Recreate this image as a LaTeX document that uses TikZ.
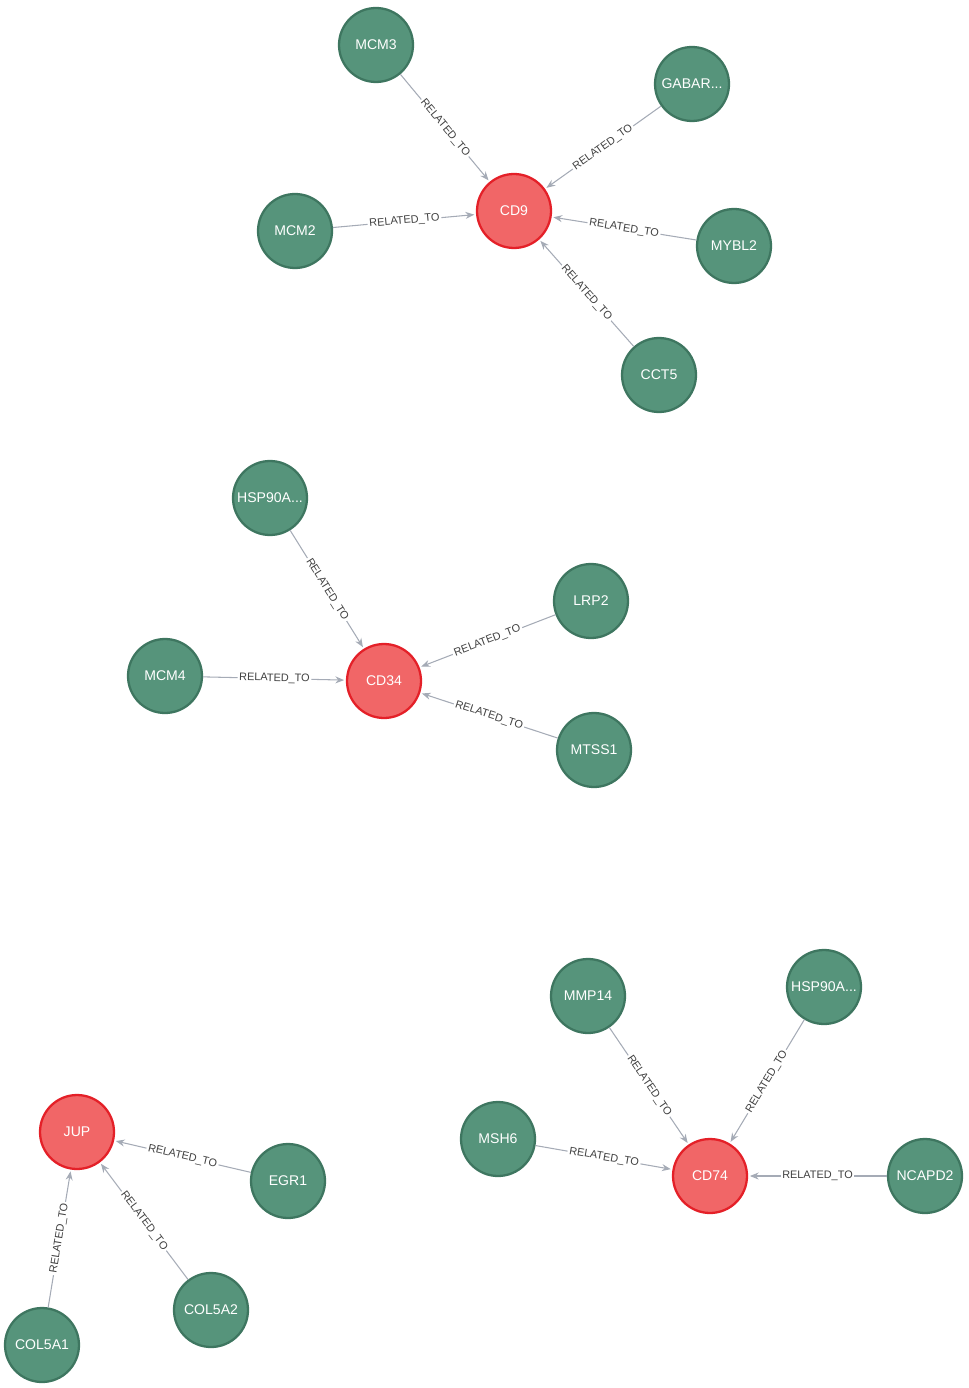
\documentclass[tikz,border=0pt]{standalone}
\usepackage{fontspec}
\setmainfont{Liberation Sans}
\usetikzlibrary{arrows.meta}

\definecolor{genefill}{RGB}{86,148,123}
\definecolor{genedraw}{RGB}{62,118,96}
\definecolor{hubfill}{RGB}{241,102,103}
\definecolor{hubdraw}{RGB}{228,32,40}
\definecolor{relgray}{RGB}{165,171,182}

\tikzset{
gene/.style={circle, minimum size=1.48cm, inner sep=0pt, fill=genefill, draw=genedraw,
  line width=1.3pt, text=white, font=\fontsize{8}{9}\selectfont},
hub/.style={gene, fill=hubfill, draw=hubdraw},
rel/.style={draw=relgray, line width=0.6pt, -{Stealth[length=5pt,width=4pt]}, shorten >=1pt},
lbl/.style={sloped, fill=white, inner sep=1pt, text=black!75, font=\fontsize{6.2}{7}\selectfont},
}

\begin{document}
\begin{tikzpicture}[x=0.02cm, y=-0.02cm]
\useasboundingbox (0,0) rectangle (968,1388);
%% hubs
\node[hub] (cd9) at (514,211) {CD9};
\node[hub] (cd34) at (384,681) {CD34};
\node[hub] (cd74) at (710,1176) {CD74};
\node[hub] (jup) at (77,1132) {JUP};
%% genes
\node[gene] (mcm3) at (376,45) {MCM3};
\node[gene] (gabar) at (692,84) {GABAR...};
\node[gene] (mcm2) at (295,231) {MCM2};
\node[gene] (mybl2) at (734,246) {MYBL2};
\node[gene] (cct5) at (659,375) {CCT5};
\node[gene] (hspa) at (270,498) {HSP90A...};
\node[gene] (lrp2) at (591,601) {LRP2};
\node[gene] (mcm4) at (165,676) {MCM4};
\node[gene] (mtss1) at (594,750) {MTSS1};
\node[gene] (mmp14) at (588,996) {MMP14};
\node[gene] (hspb) at (824,987) {HSP90A...};
\node[gene] (msh6) at (498,1139) {MSH6};
\node[gene] (ncapd2) at (925,1176) {NCAPD2};
\node[gene] (egr1) at (288,1181) {EGR1};
\node[gene] (col5a2) at (211,1310) {COL5A2};
\node[gene] (col5a1) at (42,1345) {COL5A1};
%% relations
\foreach \src/\dst in {mcm3/cd9, gabar/cd9, mcm2/cd9, mybl2/cd9, cct5/cd9,
  hspa/cd34, lrp2/cd34, mcm4/cd34, mtss1/cd34,
  mmp14/cd74, hspb/cd74, msh6/cd74, ncapd2/cd74,
  egr1/jup, col5a2/jup, col5a1/jup}
  \draw[rel] (\src) -- node[lbl] {RELATED\_TO} (\dst);
\end{tikzpicture}
\end{document}
